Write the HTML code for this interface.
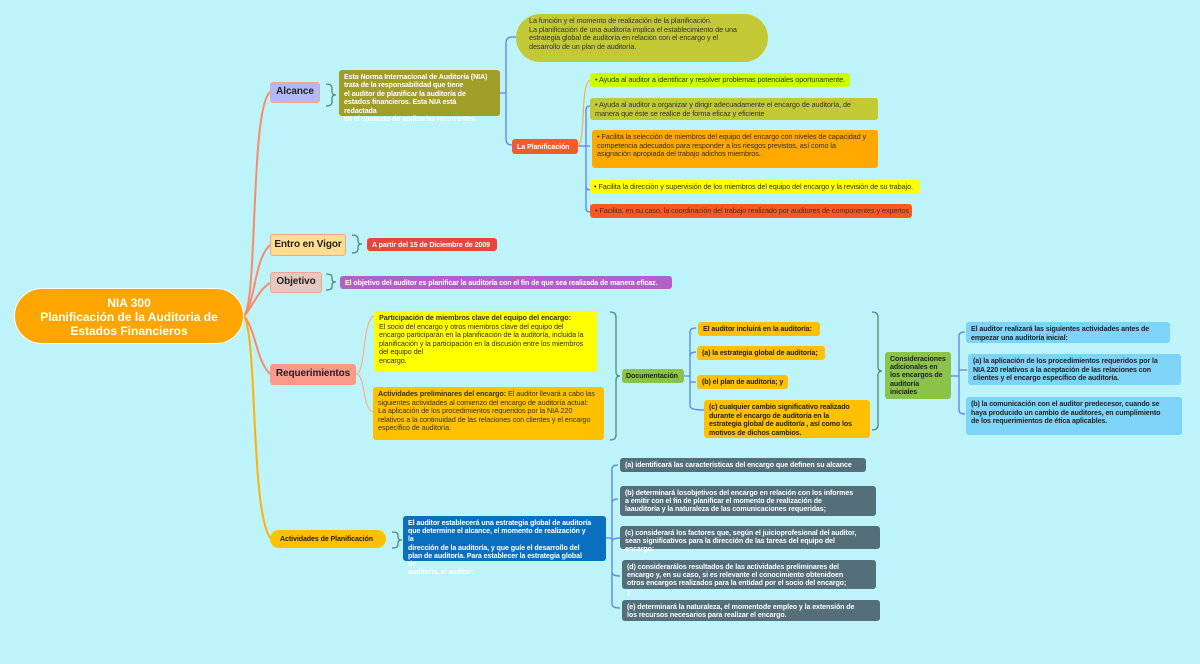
<!DOCTYPE html>
<html><head><meta charset="utf-8"><style>
body{margin:0;width:1200px;height:664px;background:#bdf4fa;position:relative;overflow:hidden;font-family:"Liberation Sans",Arial,sans-serif}
.b{position:absolute;box-sizing:border-box;font-size:7px;line-height:8.6px;padding:3px 5px;border-radius:3px;color:#333;white-space:nowrap;letter-spacing:-0.1px}
.w{color:#fff;font-weight:bold}
.k{font-weight:bold;color:#222}
.t{font-size:10px;font-weight:bold;color:#222;text-align:center;padding:0;display:flex;align-items:center;justify-content:center}
svg{position:absolute;left:0;top:0}
</style></head><body>
<svg width="1200" height="664" fill="none" stroke-width="2">
<g stroke="#f98a6e">
<path d="M244,316 C258,300 250,110 270,92"/>
<path d="M244,316 C256,300 254,260 270,245"/>
<path d="M244,316 C254,305 258,290 270,283"/>
<path d="M244,316 C256,330 256,360 270,374"/>
</g>
<path d="M244,316 C258,340 250,520 272,540" stroke="#ffb000"/>
<g stroke="#4c8a7a" stroke-width="1.3">
<path d="M326,84 q6,0 6,4 v4 q0,3 4,3 q-4,0 -4,3 v4 q0,4 -6,4"/>
<path d="M352,235 q6,0 6,4 v2 q0,3 4,3 q-4,0 -4,3 v2 q0,4 -6,4"/>
<path d="M326,274 q6,0 6,3 v2 q0,3 4,3 q-4,0 -4,3 v2 q0,3 -6,3"/>
<path d="M392,532 q6,0 6,3 v2 q0,3 4,3 q-4,0 -4,3 v2 q0,3 -6,3"/>
<path d="M610,312 q6,0 6,5 v55 q0,4 4,4 q-4,0 -4,4 v55 q0,5 -6,5"/>
<path d="M872,312 q6,0 6,5 v50 q0,4 4,4 q-4,0 -4,4 v50 q0,5 -6,5"/>
</g>
<path d="M356,374 C366,374 362,320 374,316 M356,374 C366,374 362,412 374,412" stroke="#f8b090" stroke-width="1.2"/>
<g stroke="#5a7ff0" stroke-width="1.3">
<path d="M500,93 h6 M506,93 v-50 q0,-6 6,-6 h4 M506,93 v46 q0,6 6,6"/>
<path d="M586,146 v-36 q0,-4 4,-4 M586,146 v40 q0,4 4,4 M586,146 v62 q0,4 4,4 M578,146 h12"/>
<path d="M684,376 h6 M690,376 v-44 q0,-4 6,-4 M690,376 v-20 q0,-4 6,-4 M690,376 v6 h6 M690,376 v30 q0,4 14,4"/>
<path d="M951,376 h8 M959,376 v-40 q0,-4 6,-4 M959,376 v-6 h8 M959,376 v34 q0,4 6,4"/>
<path d="M606,538 h6 M612,538 v-69 q0,-4 6,-4 M612,538 v-35 q0,-4 6,-4 M612,538 v4 q0,-4 8,-4 M612,538 v34 q0,4 8,4 M612,538 v66 q0,4 8,4"/>
</g>
<path d="M578,146 C586,140 580,84 590,80" stroke="#f5b23c" stroke-width="1.2"/>
</svg>

<div class="b w" style="left:14px;top:288px;width:230px;height:56px;background:#ffa500;border-radius:28px;font-size:12px;line-height:14px;text-align:center;padding-top:7px;border:1px solid #fff;letter-spacing:0">NIA 300<br>Planificación de la Auditoria de<br>Estados Financieros</div>

<div class="b t" style="left:270px;top:82px;width:50px;height:21px;background:#b0b9f6;border:1.5px solid #f4a48c">Alcance</div>
<div class="b w" style="left:339px;top:70px;width:161px;height:46px;background:#a09e29;font-size:7.1px;line-height:8.4px;overflow:visible">Esta Norma Internacional de Auditoría (NIA)<br>trata de la responsabilidad que tiene<br>el auditor de planificar la auditoría de<br>estados financieros. Esta NIA está<br>redactada<br>en el contexto de auditorías recurrentes.</div>
<div class="b" style="left:516px;top:14px;width:252px;height:48px;background:#c3c935;border-radius:24px;padding:3px 13px;line-height:8.6px;font-size:7.3px">La función y el momento de realización de la planificación.<br>La planificación de una auditoría implica el establecimiento de una<br>estrategia global de auditoría en relación con el encargo y el<br>desarrollo de un plan de auditoría.</div>
<div class="b w" style="left:512px;top:139px;width:66px;height:15px;background:#f55a2c;padding:4px 5px;font-size:7.1px">La Planificación</div>
<div class="b" style="left:590px;top:73px;width:260px;height:14px;background:#ccff00;font-size:7.3px">• Ayuda al auditor a identificar y resolver problemas potenciales oportunamente.</div>
<div class="b" style="left:590px;top:98px;width:288px;height:22px;background:#c3c935;font-size:7.3px">• Ayuda al auditor a organizar y dirigir adecuadamente el encargo de auditoría, de<br>manera que éste se realice de forma eficaz y eficiente</div>
<div class="b" style="left:592px;top:130px;width:286px;height:38px;background:#ffa800;font-size:7.3px">• Facilita la selección de miembros del equipo del encargo con niveles de capacidad y<br>competencia adecuados para responder a los riesgos previstos, así como la<br>asignación apropiada del trabajo adichos miembros.</div>
<div class="b" style="left:590px;top:180px;width:330px;height:13px;background:#ffff00;font-size:7.3px;padding:3px 4px">• Facilita la dirección y supervisión de los miembros del equipo del encargo y la revisión de su trabajo.</div>
<div class="b" style="left:590px;top:204px;width:322px;height:14px;background:#ff5722;font-size:7.3px">• Facilita, en su caso, la coordinación del trabajo realizado por auditores de componentes y expertos</div>

<div class="b t" style="left:270px;top:234px;width:76px;height:22px;background:#ffdf8f;border:1.5px solid #f4a48c">Entro en Vigor</div>
<div class="b w" style="left:367px;top:238px;width:130px;height:13px;background:#e8453c;padding:3px 5px;font-size:7.1px">A partir del 15 de Diciembre de 2009</div>
<div class="b t" style="left:270px;top:272px;width:52px;height:21px;background:#e6c8c0;border:1.5px solid #f4a48c">Objetivo</div>
<div class="b w" style="left:340px;top:276px;width:332px;height:13px;background:#b35fc8;padding:3px 5px;font-size:7.1px">El objetivo del auditor es planificar la auditoría con el fin de que sea realizada de manera eficaz.</div>

<div class="b t" style="left:270px;top:364px;width:86px;height:21px;background:#f8998a">Requerimientos</div>
<div class="b" style="left:374px;top:311px;width:223px;height:61px;background:#ffff00;font-size:7.3px;line-height:8.6px"><b>Participación de miembros clave del equipo del encargo:</b><br>El socio del encargo y otros miembros clave del equipo del<br>encargo participarán en la planificación de la auditoría, incluida la<br>planificación y la participación en la discusión entre los miembros<br>del equipo del<br>encargo.</div>
<div class="b" style="left:373px;top:387px;width:231px;height:53px;background:#ffc000;font-size:7.3px;line-height:8.6px"><b>Actividades preliminares del encargo:</b> El auditor llevará a cabo las<br>siguientes actividades al comienzo del encargo de auditoría actual:<br>La aplicación de los procedimientos requeridos por la NIA 220<br>relativos a la continuidad de las relaciones con clientes y el encargo<br>específico de auditoría.</div>
<div class="b k" style="left:622px;top:369px;width:62px;height:14px;background:#8bc34a;font-size:7.1px;padding:3px 4px">Documentación</div>
<div class="b k" style="left:698px;top:322px;width:122px;height:14px;background:#ffc000;font-size:7.1px">El auditor incluirá en la auditoría:</div>
<div class="b k" style="left:697px;top:346px;width:128px;height:14px;background:#ffc000;font-size:7.1px">(a) la estrategia global de auditoría;</div>
<div class="b k" style="left:697px;top:375px;width:91px;height:14px;background:#ffc000;font-size:7.1px">(b) el plan de auditoría; y</div>
<div class="b k" style="left:704px;top:400px;width:166px;height:38px;background:#ffc000;font-size:7.1px">(c) cualquier cambio significativo realizado<br>durante el encargo de auditoría en la<br>estrategia global de auditoría , así como los<br>motivos de dichos cambios.</div>
<div class="b k" style="left:885px;top:352px;width:66px;height:47px;background:#8bc34a;line-height:8.2px;font-size:7.1px">Consideraciones<br>adicionales en<br>los encargos de<br>auditoría<br>iniciales</div>
<div class="b k" style="left:966px;top:322px;width:204px;height:21px;background:#7dd3f8;font-size:7.1px">El auditor realizará las siguientes actividades antes de<br>empezar una auditoría inicial:</div>
<div class="b k" style="left:968px;top:354px;width:213px;height:31px;background:#7dd3f8;font-size:7.1px">(a) la aplicación de los procedimientos requeridos por la<br>NIA 220 relativos a la aceptación de las relaciones con<br>clientes y el encargo específico de auditoría.</div>
<div class="b k" style="left:966px;top:397px;width:216px;height:38px;background:#7dd3f8;font-size:7.1px">(b) la comunicación con el auditor predecesor, cuando se<br>haya producido un cambio de auditores, en cumplimiento<br>de los requerimientos de ética aplicables.</div>

<div class="b k" style="left:270px;top:530px;width:116px;height:18px;background:#ffc000;border-radius:9px;padding:5px 10px;font-size:7.1px">Actividades de Planificación</div>
<div class="b w" style="left:403px;top:516px;width:203px;height:45px;background:#0b6fc0;line-height:8.2px;overflow:visible;font-size:7.1px">El auditor establecerá una estrategia global de auditoría<br>que determine el alcance, el momento de realización y<br>la<br>dirección de la auditoría, y que guíe el desarrollo del<br>plan de auditoría. Para establecer la estrategia global<br>de<br>auditoría, el auditor:</div>
<div class="b w" style="left:620px;top:458px;width:246px;height:14px;background:#546e7a;font-size:7.1px">(a) identificará las características del encargo que definen su alcance</div>
<div class="b w" style="left:620px;top:486px;width:256px;height:30px;background:#546e7a;line-height:8.2px;font-size:7.1px">(b) determinará losobjetivos del encargo en relación con los informes<br>a emitir con el fin de planificar el momento de realización de<br>laauditoría y la naturaleza de las comunicaciones requeridas;</div>
<div class="b w" style="left:620px;top:526px;width:260px;height:23px;background:#546e7a;line-height:8.2px;overflow:visible;font-size:7.1px">(c) considerará los factores que, según el juicioprofesional del auditor,<br>sean significativos para la dirección de las tareas del equipo del<br>encargo;</div>
<div class="b w" style="left:622px;top:560px;width:254px;height:29px;background:#546e7a;line-height:8.2px;overflow:visible;font-size:7.1px">(d) considerarálos resultados de las actividades preliminares del<br>encargo y, en su caso, si es relevante el conocimiento obtenidoen<br>otros encargos realizados para la entidad por el socio del encargo;<br>y</div>
<div class="b w" style="left:622px;top:600px;width:258px;height:21px;background:#546e7a;line-height:8.2px;font-size:7.1px">(e) determinará la naturaleza, el momentode empleo y la extensión de<br>los recursos necesarios para realizar el encargo.</div>
</body></html>
